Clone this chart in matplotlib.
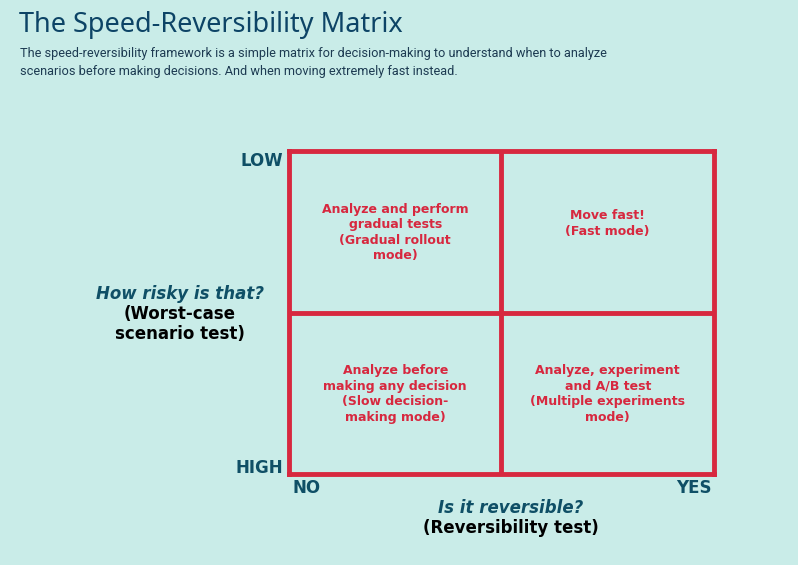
import matplotlib
matplotlib.use("Agg")
import matplotlib.pyplot as plt

title = "The Speed-Reversibility Matrix"
subtitle = ["The speed-reversibility framework is a simple matrix for decision-making to understand when to analyze",
            "scenarios before making decisions. And when moving extremely fast instead."]
x_labels = ["NO", "YES"]
y_labels = ["HIGH", "LOW"]
x_title = ["Is it reversible?", "(Reversibility test)"]
y_title = ["How risky is that?", "(Worst-case", "scenario test)"]
cell_cols = [0, 1, 0, 1]
cell_rows = [1, 1, 0, 0]
cell_texts = ["Analyze and perform\ngradual tests\n(Gradual rollout\nmode)",
              "Move fast!\n(Fast mode)",
              "Analyze before\nmaking any decision\n(Slow decision-\nmaking mode)",
              "Analyze, experiment\nand A/B test\n(Multiple experiments\nmode)"]
cell_top = [0.68, 0.64, 0.68, 0.68]

BG = "#c9ece8"; RED = "#d7283f"; NAVY = "#0d4466"; TEAL = "#0f4f66"
W, H = 798, 565
fig = plt.figure(figsize=(W/100, H/100), dpi=100, facecolor=BG)
def fx(p): return p / W
def fy(p): return 1 - p / H

fig.text(fx(19), fy(25), title, fontsize=19.5, fontweight="bold", color=NAVY, family="Noto Sans", va="center")
fig.text(fx(20), fy(53), subtitle[0], fontsize=9.2, color="#1d3b52", family="Roboto", va="center")
fig.text(fx(20), fy(72), subtitle[1], fontsize=9.2, color="#1d3b52", family="Roboto", va="center")

ax = fig.add_axes([fx(289), fy(474), fx(714) - fx(289), (474 - 151) / H])
ax.set_facecolor(BG)
ax.set_xlim(0, 2); ax.set_ylim(0, 2)
for s in ax.spines.values():
    s.set_color(RED); s.set_linewidth(3.5)
ax.axvline(1, color=RED, lw=3.5); ax.axhline(1, color=RED, lw=3.5)
ax.set_xticks([]); ax.set_yticks([])
for c, r, t, top in zip(cell_cols, cell_rows, cell_texts, cell_top):
    ax.text(c + 0.5, r + top, t, ha="center", va="top", fontsize=9, fontweight="bold",
            color=RED, family="DejaVu Sans", linespacing=1.25)

fig.text(fx(283), fy(161), y_labels[1], ha="right", va="center", fontsize=12, fontweight="bold", color=TEAL)
fig.text(fx(283), fy(468), y_labels[0], ha="right", va="center", fontsize=12, fontweight="bold", color=TEAL)
fig.text(fx(293), fy(488), x_labels[0], ha="left", va="center", fontsize=12, fontweight="bold", color=TEAL)
fig.text(fx(712), fy(488), x_labels[1], ha="right", va="center", fontsize=12, fontweight="bold", color=TEAL)
fig.text(fx(180), fy(294), y_title[0], ha="center", va="center", fontsize=12, fontweight="bold", style="italic", color=TEAL)
fig.text(fx(180), fy(314), y_title[1], ha="center", va="center", fontsize=12, fontweight="bold", color="black")
fig.text(fx(180), fy(334), y_title[2], ha="center", va="center", fontsize=12, fontweight="bold", color="black")
fig.text(fx(511), fy(508), x_title[0], ha="center", va="center", fontsize=12, fontweight="bold", style="italic", color=TEAL)
fig.text(fx(511), fy(528), x_title[1], ha="center", va="center", fontsize=12, fontweight="bold", color="black")

fig.savefig("out.png", dpi=100, facecolor=BG)
